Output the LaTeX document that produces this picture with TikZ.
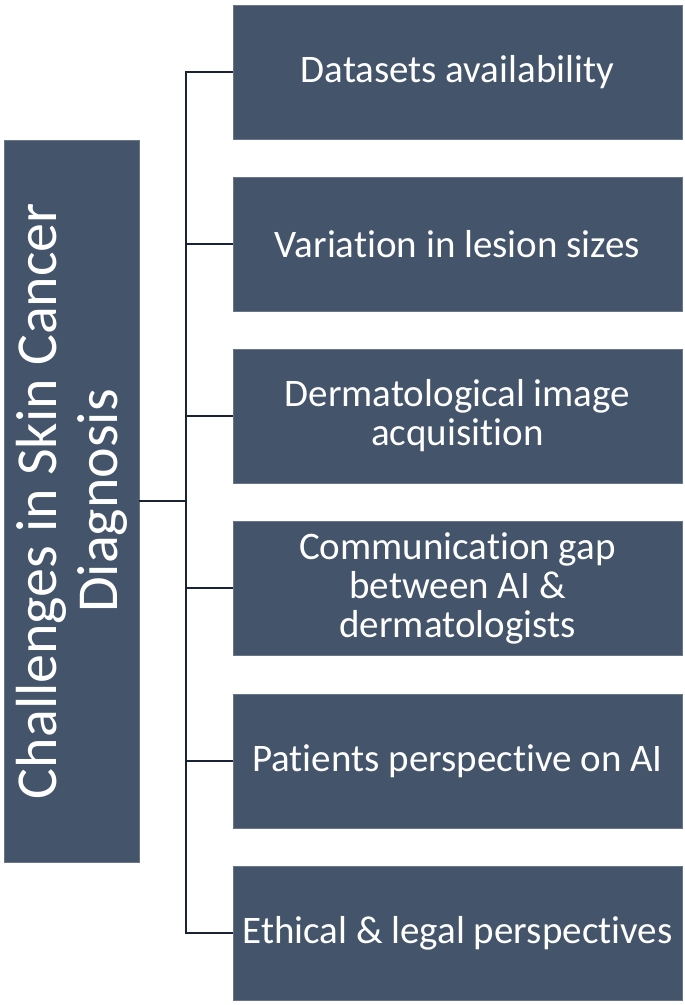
\documentclass[tikz,border=0pt]{standalone}
\usepackage{fontspec}
\setmainfont{Carlito}[Ligatures=NoCommon]
\definecolor{boxfill}{HTML}{44546A}
\definecolor{linecol}{HTML}{1A2236}
\begin{document}
\begin{tikzpicture}[x=1pt,y=-1pt,
  catbox/.style={draw=boxfill!80!white,line width=0.6pt,fill=boxfill,text=white,minimum width=449pt,minimum height=134pt,inner sep=2pt,align=center,font=\fontsize{39}{39}\selectfont},
  mainbox/.style={draw=boxfill!80!white,line width=0.6pt,fill=boxfill,text=white,rotate=90,minimum width=722pt,minimum height=135pt,inner sep=0pt,align=center,font=\fontsize{58}{61}\selectfont},
  conn/.style={draw=linecol,line width=1.8pt}]
\useasboundingbox (0,0) rectangle (685,1005);
\node[mainbox] (main) at (71.5,501) {Challenges in Skin Cancer\\Diagnosis};
\node[catbox] (b1) at (457.5,72) {Datasets availability};
\node[catbox] (b2) at (457.5,244) {Variation in lesion sizes};
\node[catbox] (b3) at (457.5,416) {Dermatological image\\acquisition};
\node[catbox] (b4) at (457.5,588) {Communication gap\\between AI \&\\dermatologists};
\node[catbox] (b5) at (457.5,761) {Patients perspective on AI};
\node[catbox] (b6) at (457.5,933) {Ethical \& legal perspectives};
\coordinate (j) at (186,501);
\draw[conn] (main.south) -- (j);
\foreach \b in {b1,b2,b3,b4,b5,b6}{\draw[conn] (j) |- (\b.west);}
\end{tikzpicture}
\end{document}
